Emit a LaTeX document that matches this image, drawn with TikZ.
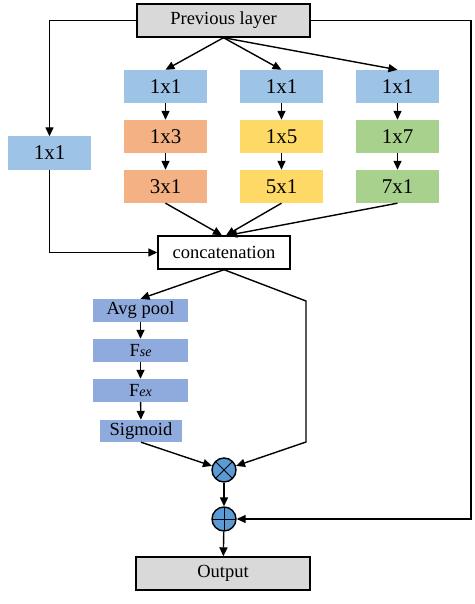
\documentclass[tikz,border=0pt]{standalone}
\usepackage{fontspec}
\setmainfont{Liberation Serif}
\usetikzlibrary{arrows.meta,calc}
\definecolor{kblue}{RGB}{157,195,230}
\definecolor{korange}{RGB}{244,177,131}
\definecolor{kyellow}{RGB}{255,217,102}
\definecolor{kgreen}{RGB}{169,209,142}
\definecolor{seblue}{RGB}{143,170,220}
\definecolor{kgray}{RGB}{217,217,217}
\definecolor{cblue}{RGB}{91,155,213}
\tikzset{
  conn/.style={line width=1.4pt,draw=black},
  arr/.style={conn,-{Triangle[length=9pt,width=8pt]}},
  kbox/.style={inner sep=0pt,minimum width=83pt,minimum height=33pt,font=\fontsize{21}{21}\selectfont},
  sebox/.style={inner sep=0pt,fill=seblue,minimum width=95pt,minimum height=23pt,font=\fontsize{18.5}{18.5}\selectfont},
  graybox/.style={inner sep=0pt,draw=black,line width=1.4pt,fill=kgray,minimum width=173pt,minimum height=33pt,font=\fontsize{18.5}{18.5}\selectfont},
  opcircle/.style={circle,draw=black,line width=1.4pt,fill=cblue,minimum size=24pt,inner sep=0pt},
}
\begin{document}
\begin{tikzpicture}[x=1pt,y=-1pt]
\useasboundingbox (0,0) rectangle (474,604);
% nodes
\node[graybox] (prev) at (223.5,20.5) {Previous layer};
\node[kbox,fill=kblue] (left) at (49.5,153) {1x1};
\node[kbox,fill=kblue] (a1) at (165.5,86.5) {1x1};
\node[kbox,fill=kblue] (b1) at (281.5,86.5) {1x1};
\node[kbox,fill=kblue] (c1) at (397.5,86.5) {1x1};
\node[kbox,fill=korange] (a2) at (165.5,136.5) {1x3};
\node[kbox,fill=kyellow] (b2) at (281.5,136.5) {1x5};
\node[kbox,fill=kgreen] (c2) at (397.5,136.5) {1x7};
\node[kbox,fill=korange] (a3) at (165.5,186.5) {3x1};
\node[kbox,fill=kyellow] (b3) at (281.5,186.5) {5x1};
\node[kbox,fill=kgreen] (c3) at (397.5,186.5) {7x1};
\node[inner sep=0pt,draw=black,line width=1.4pt,fill=white,minimum width=132pt,minimum height=33pt,font=\fontsize{18.5}{18.5}\selectfont] (concat) at (224,252.5) {concatenation};
\node[sebox] (avg) at (140.5,310.5) {Avg pool};
\node[sebox] (fse) at (140.5,350.5) {F{\fontsize{14}{14}\itshape se}};
\node[sebox] (fex) at (140.5,390.5) {F{\fontsize{14}{14}\itshape ex}};
\node[sebox,minimum width=82pt,minimum height=22pt] (sig) at (141,431) {Sigmoid};
\node[opcircle,path picture={\draw[line width=1pt] (path picture bounding box.south west)--(path picture bounding box.north east) (path picture bounding box.north west)--(path picture bounding box.south east);}] (mul) at (224,470) {};
\node[opcircle,path picture={\draw[line width=1pt] (path picture bounding box.south)--(path picture bounding box.north) (path picture bounding box.west)--(path picture bounding box.east);}] (add) at (224,519) {};
\node[graybox,minimum width=174pt] (out) at (223,573.5) {Output};
\coordinate (rtop) at (471,20.5);
\coordinate (rbot) at (471,519);
\coordinate (bend) at (306,301);
\coordinate (bend2) at (306,442);
% connectors
\draw[arr] (prev.west) -| (left.north);
\draw[arr] (left.south) |- (concat.west);
\draw[arr] (prev.east) -- (rtop) -- (rbot) -- (add.east);
\draw[arr] (prev.south) -- (a1.north);
\draw[arr] (prev.south) -- (b1.north);
\draw[arr] (prev.south) -- (c1.north);
\draw[arr] (a1) -- (a2);
\draw[arr] (a2) -- (a3);
\draw[arr] (b1) -- (b2);
\draw[arr] (b2) -- (b3);
\draw[arr] (c1) -- (c2);
\draw[arr] (c2) -- (c3);
\draw[arr] (a3.south) -- ([xshift=-2pt]concat.north);
\draw[arr] (b3.south) -- ([xshift=2pt]concat.north);
\draw[arr] (c3.south) -- ([xshift=4pt]concat.north);
\draw[arr] (concat.south) -- (avg.north);
\draw[arr] (avg) -- (fse);
\draw[arr] (fse) -- (fex);
\draw[arr] (fex) -- (sig);
\draw[arr] (concat.south) -- (bend) -- (bend2) -- (mul);
\draw[arr] (sig.south) -- (mul);
\draw[arr] (mul) -- (add);
\draw[arr] (add) -- (out);
\end{tikzpicture}
\end{document}
